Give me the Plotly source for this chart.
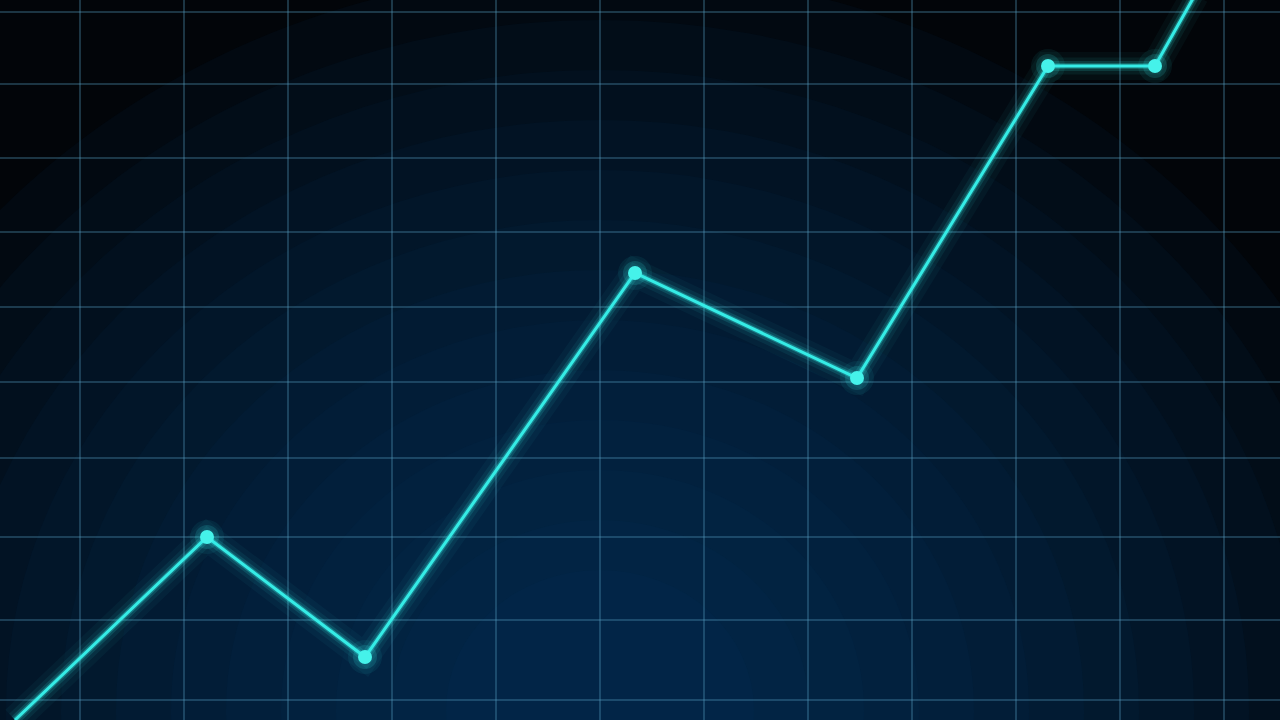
import plotly.graph_objects as go

# Data (x in chart units, y in chart units)
x_vals = [15, 207, 365, 635, 857, 1048, 1155, 1195]
y_vals = [0, 183, 63, 447, 342, 654, 654, 725]
marker_x = x_vals[1:-1]
marker_y = y_vals[1:-1]

grid_x = [80, 184, 288, 392, 496, 600, 704, 808, 912, 1016, 1120, 1224]
grid_y = [20, 100, 183, 262, 338, 413, 488, 562, 636, 708]

LINE = "#35ece6"

fig = go.Figure()

# glow layers for the line
for w, op in [(28, 0.04), (17, 0.07), (10, 0.14), (5.5, 0.3)]:
    fig.add_trace(go.Scatter(x=x_vals, y=y_vals, mode="lines",
                             line=dict(color=LINE, width=w), opacity=op,
                             hoverinfo="skip", showlegend=False))
fig.add_trace(go.Scatter(x=x_vals, y=y_vals, mode="lines",
                         line=dict(color=LINE, width=3),
                         hoverinfo="skip", showlegend=False))
# marker glow
for s, op in [(34, 0.07), (24, 0.15)]:
    fig.add_trace(go.Scatter(x=marker_x, y=marker_y, mode="markers",
                             marker=dict(color=LINE, size=s), opacity=op,
                             hoverinfo="skip", showlegend=False))
fig.add_trace(go.Scatter(x=marker_x, y=marker_y, mode="markers",
                         marker=dict(color="#45f2ea", size=14),
                         hoverinfo="skip", showlegend=False))

# background glow (radial-ish via stacked translucent circles)
shapes = []
cx, cy = 600, 10
radii = [740, 690, 640, 590, 540, 490, 440, 390, 340, 290, 240, 190, 140]
for r in radii:
    shapes.append(dict(type="circle", xref="x", yref="y",
                       x0=cx - r * 1.1, x1=cx + r * 1.1, y0=cy - r, y1=cy + r,
                       fillcolor="rgba(8,56,108,0.085)", line=dict(width=0),
                       layer="below"))

GRID = "rgba(85,155,190,0.32)"
fig.update_layout(
    width=1280, height=720,
    margin=dict(l=0, r=0, t=0, b=0),
    paper_bgcolor="#020509",
    plot_bgcolor="#020509",
    shapes=shapes,
    showlegend=False,
    xaxis=dict(range=[0, 1280], tickvals=grid_x, showticklabels=False,
               showgrid=True, gridcolor=GRID, gridwidth=1.6,
               zeroline=False, showline=False, fixedrange=True),
    yaxis=dict(range=[0, 720], tickvals=grid_y, showticklabels=False,
               showgrid=True, gridcolor=GRID, gridwidth=1.6,
               zeroline=False, showline=False, fixedrange=True),
)

fig.write_html("out.html", config={"displayModeBar": False},
               post_script="document.body.style.margin='0';document.body.style.background='#020509';")
